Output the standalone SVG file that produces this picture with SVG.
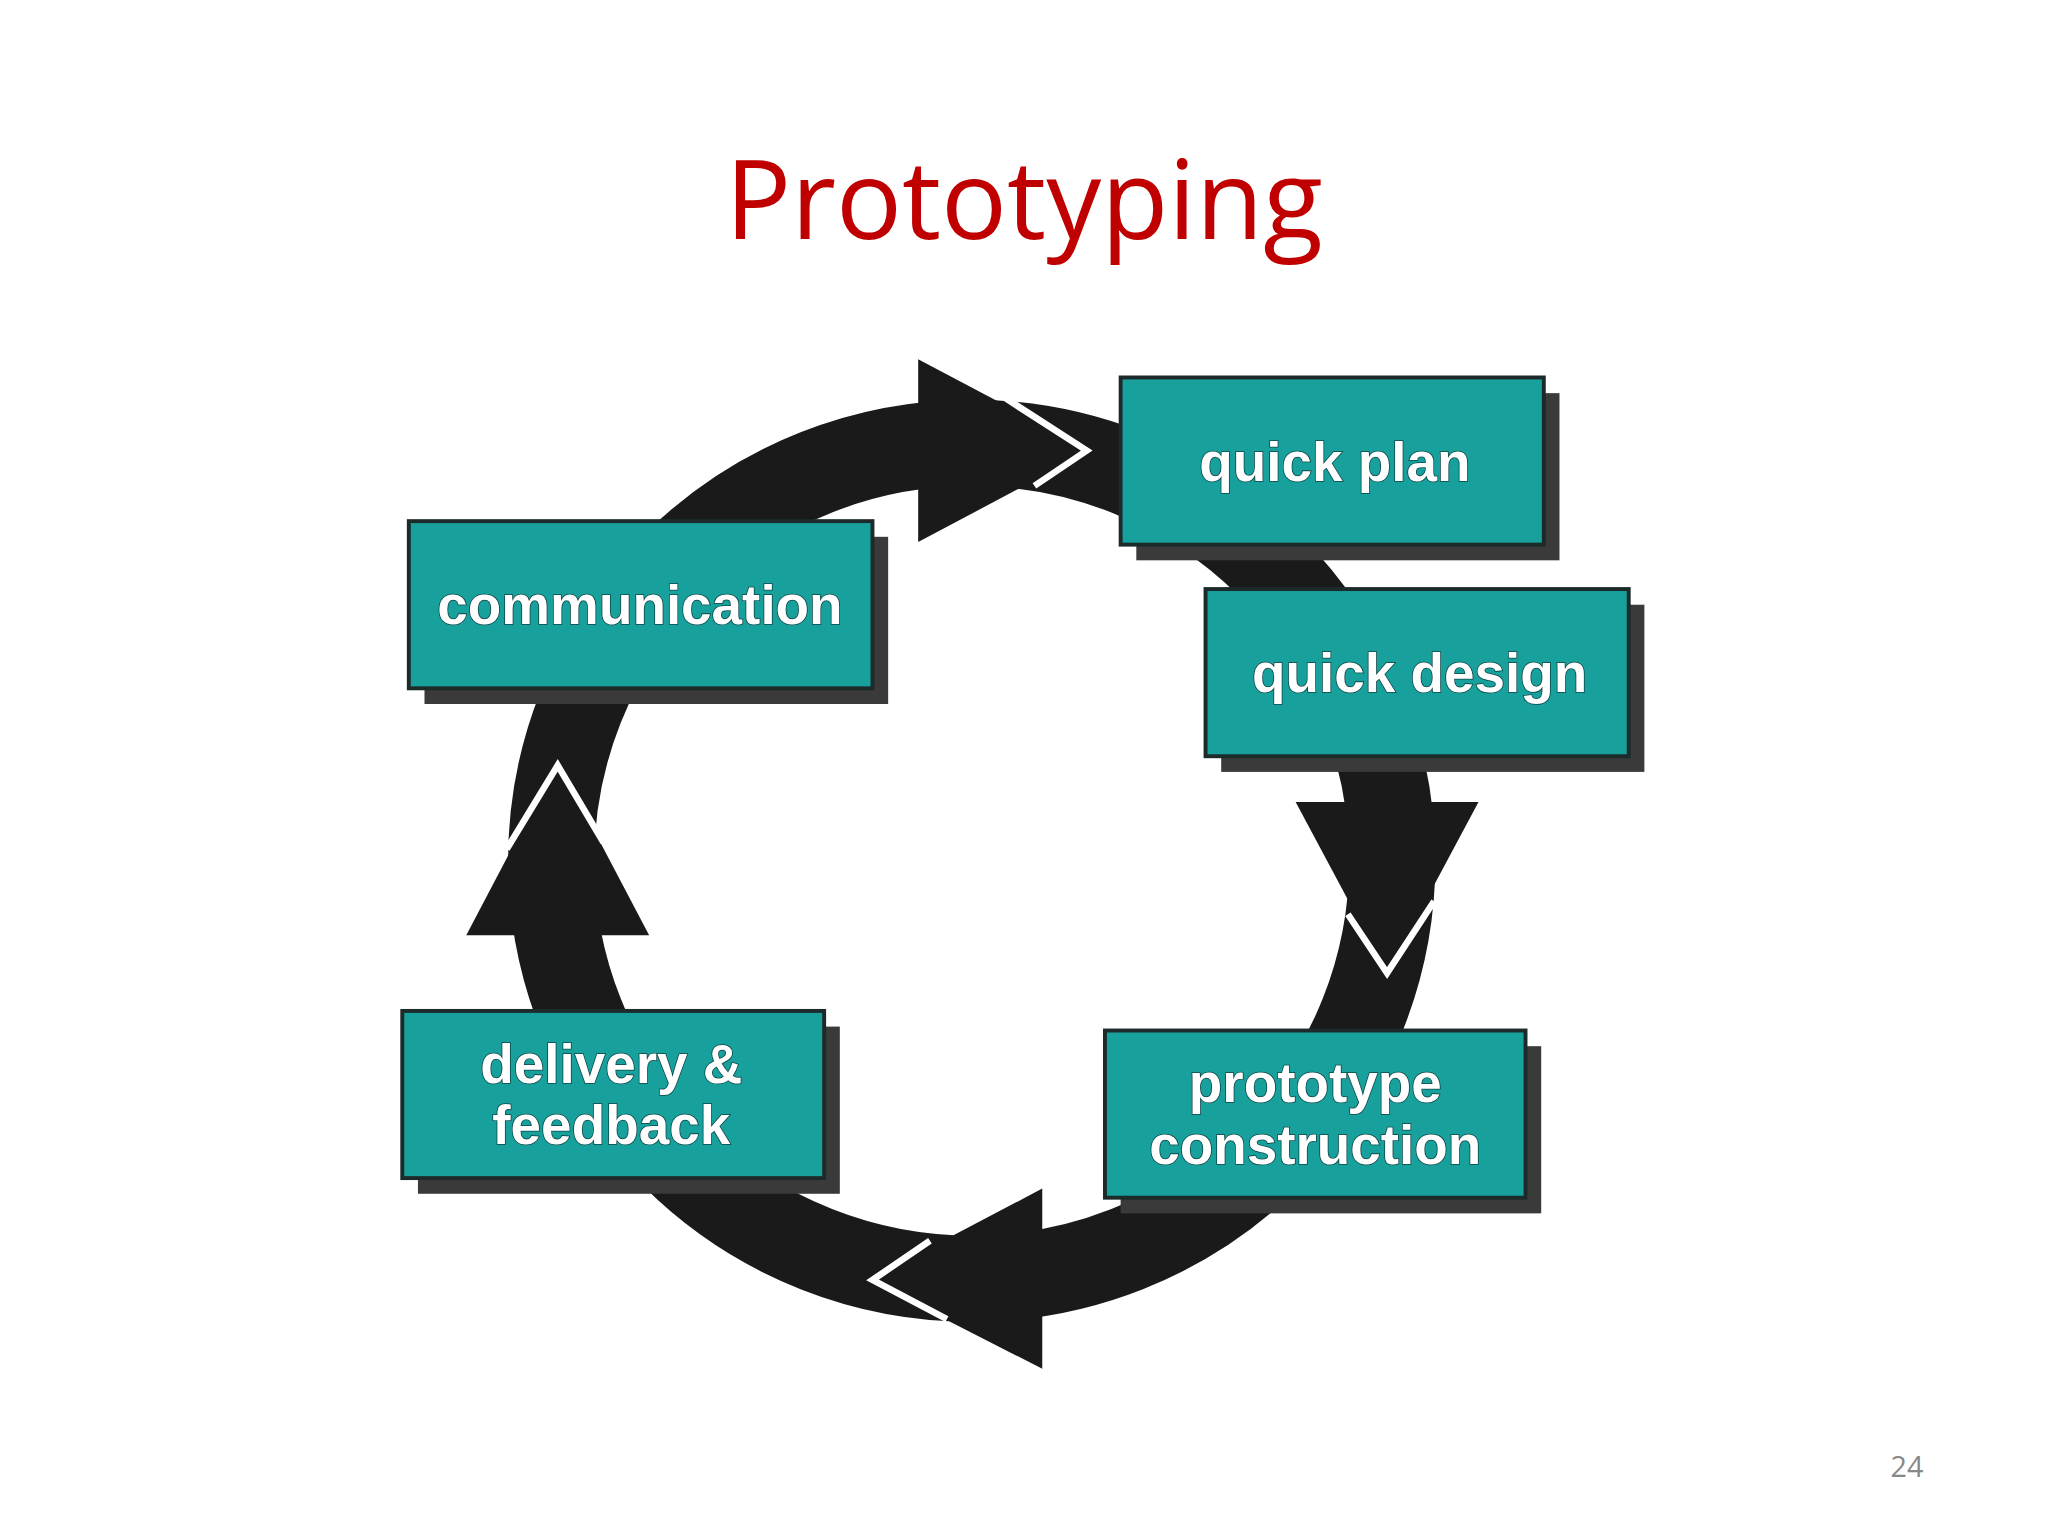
<svg xmlns="http://www.w3.org/2000/svg" width="2048" height="1536" viewBox="0 0 2048 1536">
<style>
.box{fill:#17a09c;stroke:#1c2a2a;stroke-width:3}
.sh{fill:#3a3a3a}
.lbl{font-family:"Liberation Sans",Arial,sans-serif;font-weight:bold;font-size:42px;fill:#ffffff;text-anchor:middle;stroke:#0c4444;stroke-width:1.2;paint-order:stroke}
.tri{fill:#1a1a1a}
.wl{fill:none;stroke:#ffffff;stroke-width:5}
</style>
<rect width="2048" height="1536" fill="#ffffff"/>
<g transform="scale(1.3061)">
<text x="784" y="183" font-family="'Open Sans','Noto Sans',sans-serif" font-size="84" fill="#c00000" text-anchor="middle">Prototyping</text>
<text x="1460" y="1131" font-family="'Open Sans','Noto Sans',sans-serif" font-size="22" fill="#888888" text-anchor="middle">24</text>
<g id="connectors">
<ellipse cx="744" cy="659" rx="322" ry="320" fill="none" stroke="#1a1a1a" stroke-width="66"/>
<polygon class="tri" points="703,275 703,415 835,345"/>
<polyline class="wl" points="770,305 832,345 792,372"/>
<polygon class="tri" points="992,614 1132,614 1062,745"/>
<polyline class="wl" points="1032,700 1062,745 1098,690"/>
<polygon class="tri" points="798,910 798,1048 665,980"/>
<polyline class="wl" points="712,950 668,980 725,1010"/>
<polygon class="tri" points="357,716 497,716 427,583"/>
<polyline class="wl" points="388,650 427,586 462,645"/>
</g>
<g id="quick-plan"><rect class="sh" x="870" y="301" width="324" height="128"/><rect class="box" x="858" y="289" width="324" height="128"/><text class="lbl" x="1022" y="368">quick plan</text></g>
<g id="communication"><rect class="sh" x="325" y="411" width="355" height="128"/><rect class="box" x="313" y="399" width="355" height="128"/><text class="lbl" x="490" y="478">communication</text></g>
<g id="quick-design"><rect class="sh" x="935" y="463" width="324" height="128"/><rect class="box" x="923" y="451" width="324" height="128"/><text class="lbl" x="1087" y="530">quick design</text></g>
<g id="delivery-feedback"><rect class="sh" x="320" y="786" width="323" height="128"/><rect class="box" x="308" y="774" width="323" height="128"/><text class="lbl" x="468" y="829">delivery &amp;</text><text class="lbl" x="468" y="876">feedback</text></g>
<g id="prototype-construction"><rect class="sh" x="858" y="801" width="322" height="128"/><rect class="box" x="846" y="789" width="322" height="128"/><text class="lbl" x="1007" y="844">prototype</text><text class="lbl" x="1007" y="891">construction</text></g>
</g>
</svg>
